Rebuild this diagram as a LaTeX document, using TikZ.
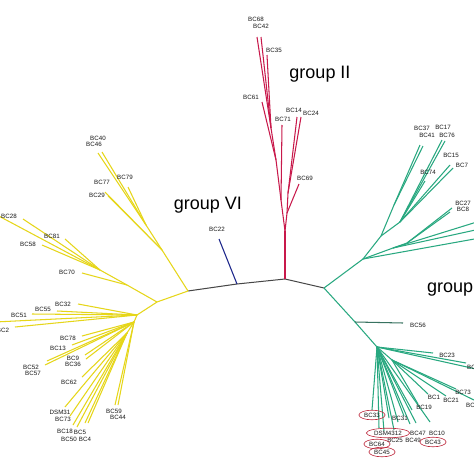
\documentclass[tikz,border=0pt]{standalone}
\usepackage{fontspec}
\setmainfont{Liberation Sans}
\usetikzlibrary{shapes.geometric}
\definecolor{cred}{RGB}{200,25,75}
\definecolor{cyel}{RGB}{230,214,25}
\definecolor{cgrn}{RGB}{40,168,128}
\definecolor{cblu}{RGB}{30,40,140}
\definecolor{cgry}{RGB}{70,70,70}
\definecolor{cring}{RGB}{190,40,60}
\begin{document}
\begin{tikzpicture}[x=1pt,y=-1pt,
  br/.style={line width=1.05pt},
  redbr/.style={br,draw=cred},
  yelbr/.style={br,draw=cyel},
  grnbr/.style={br,draw=cgrn},
  blubr/.style={br,draw=cblu},
  spine/.style={line width=1pt,draw=cgry},
  lab/.style={font=\fontsize{6.2}{6.2}\selectfont,inner sep=0pt,text=black!90},
  ring/.style={lab,ellipse,draw=cring,line width=0.6pt,inner xsep=1.5pt,inner ysep=1.2pt},
  grp/.style={font=\fontsize{18}{18}\selectfont,inner sep=0pt,text=black}]
\clip (0,0) rectangle (474,474);
\fill[white] (0,0) rectangle (474,474);
% coordinates
\foreach \n/\x/\y in {Y0/188/291,B0/237/284,R0/285/279,G0/324/288,t22/219/239,
  R1/285/231,R2/287/213,R4/288/193,R3/281/200,R5/276/160,R6/271/128,
  r69/299/184,r14/297/117,r24/301/117,r71/282/125,r61/262/102,r35/267/55,r68/257/37,r42/261/37,
  YA/162/250,YB/146/225,y40/98/153,y46/102/152,y79/128/187,y77/108/196,y29/105/192,
  Y1/157/302,YD/127/285,YC/100/270,y28a/-5/214,y28/23/219,y81/65/239,y58/42/245,y70/82/273,
  Y2/137/315,y32/78/304,y55/57/311,y51/32/314,y2/15/327,y2a/-5/322,
  Y3/134/322,Y4/127/333,y78/82/336,y13/72/345,y52/45/365,y57/47/361,y9/85/355,y36/86/359,
  y62/82/377,yD31/65/407,y73/70/416,y18/73/425,y50/77/427,y5/85/423,y4/88/423,y59/115/405,y44/118/405,
  G1/363/259,GA/393/248,GB/407/243,GC/381/236,GD/394/205,GF/400/222,
  g37/420/145,g41/423/146,g17/442/140,g76/445/141,g15/450/165,g7/453/168,g74/425/181,
  g27/452/208,g8/450/212,ge1/480/221,ge2/480/229,ge3/480/238,
  GM/355/322,G2/377/347,GN/392/360,g56/403/323,g23/433/353,gx1/466/363,gx2/476/369,
  g73/456/389,gx3/476/401,g21/446/396,g1/428/394,g19/418/404,
  b1/372/410,b2/379/428,b3/384/431,b4/389/418,b5/394/430,b6/398/422,b7/404/416,
  b8/410/424,b9/416/423,b10/412/410,b11/430/422}
  \coordinate (\n) at (\x,\y);
% spine
\draw[spine] (Y0) -- (B0) -- (R0) -- (G0);
\draw[blubr] (B0) -- (t22);
% red
\foreach \a/\b in {R0/R1,R1/R2,R2/r69,R2/R4,R4/r14,R4/r24,R1/R3,R3/r71,R3/R5,R5/r61,R5/R6,R6/r35,R6/r68,R6/r42}
  \draw[redbr] (\a) -- (\b);
% yellow
\foreach \a/\b in {Y0/YA,YA/YB,YB/y40,YB/y46,YB/y79,YA/y77,YA/y29,
  Y0/Y1,Y1/YD,YD/YC,YD/y70,YC/y28a,YC/y28,YC/y81,YC/y58,
  Y1/Y2,Y2/y32,Y2/y55,Y2/y51,Y2/y2,Y2/y2a,
  Y2/Y3,Y3/y78,Y3/y13,Y3/y52,Y3/y57,Y3/y9,Y3/y36,Y3/Y4,Y4/y62,Y4/yD31,Y4/y73,Y4/y18,Y4/y50,Y4/y5,Y4/y4,Y3/y59,Y3/y44}
  \draw[yelbr] (\a) -- (\b);
% green
\foreach \a/\b in {G0/G1,G1/GC,GC/GD,GD/g37,GD/g41,GC/GF,GF/g17,GF/g76,GF/g15,GF/g7,GF/g74,
  G1/GA,GA/GB,GB/g27,GB/g8,GA/ge1,GA/ge2,G1/ge3,
  G0/GM,GM/G2,G2/g23,G2/gx1,G2/gx2,G2/GN,GN/g73,GN/gx3,GN/g21,GN/g1,GN/g19,
  G2/b1,G2/b2,G2/b3,G2/b4,G2/b5,G2/b6,G2/b7,G2/b8,G2/b9,G2/b10,G2/b11}
  \draw[grnbr] (\a) -- (\b);
\draw[br,draw=cgrn!45!cgry] (GM) -- (g56);
% labels
\foreach \n/\t/\x/\y in {L22/BC22/217/229,
  L68/BC68/256/19,L42/BC42/261/26,L35/BC35/274/50,L61/BC61/251/97,L14/BC14/294/110,L24/BC24/311/113,L71/BC71/283/119,L69/BC69/305/178,
  L40/BC40/98/138,L46/BC46/94/144,L79/BC79/125/177,L77/BC77/102/182,L29/BC29/97/195,
  L28/BC28/9/216,L81/BC81/52/236,L58/BC58/28/244,L70/BC70/67/272,
  L32/BC32/63/304,L55/BC55/43/309,L51/BC51/19/315,L2/BC2/3/330,
  L78/BC78/68/338,L13/BC13/58/348,L52/BC52/31/367,L57/BC57/33/373,L9/BC9/73/358,L36/BC36/73/364,
  L62/BC62/69/382,LD31/DSM31/60/412,L73/BC73/63/419,L18/BC18/65/431,L50/BC50/69/439,L5/BC5/80/432,L4/BC4/85/439,
  L59/BC59/114/411,L44/BC44/118/417,
  M37/BC37/422/128,M41/BC41/427/135,M17/BC17/443/127,M76/BC76/447/135,M15/BC15/451/155,M7/BC7/462/165,
  M74/BC74/428/172,M27/BC27/463/203,M8/BC8/463/209,M56/BC56/418/325,M23/BC23/447/355,
  M73/BC73/463/392,M1/BC1/434/397,M21/BC21/451/400,M19/BC19/424/407,M31/BC31/400/418,
  M47/BC47/418/433,M10/BC10/437/433,M25/BC25/395/440,M49/BC49/413/440}
  \node[lab] (\n) at (\x,\y) {\t};
\node[lab,anchor=west] (Mx1) at (467,367) {BC};
\node[lab,anchor=west] (Mx2) at (466,405) {BC};
\node[ring] (M33) at (372,415) {BC33};
\node[ring] (MD) at (388,433) {DSM4312};
\node[ring] (M43) at (433,442) {BC43};
\node[ring] (M64) at (377,444) {BC64};
\node[ring] (M45) at (382,452) {BC45};
% group labels
\node[grp] (gII) at (320,74) {group II};
\node[grp] (gVI) at (208,205) {group VI};
\node[grp,anchor=west] (gR) at (427,290) {group};
\end{tikzpicture}
\end{document}
